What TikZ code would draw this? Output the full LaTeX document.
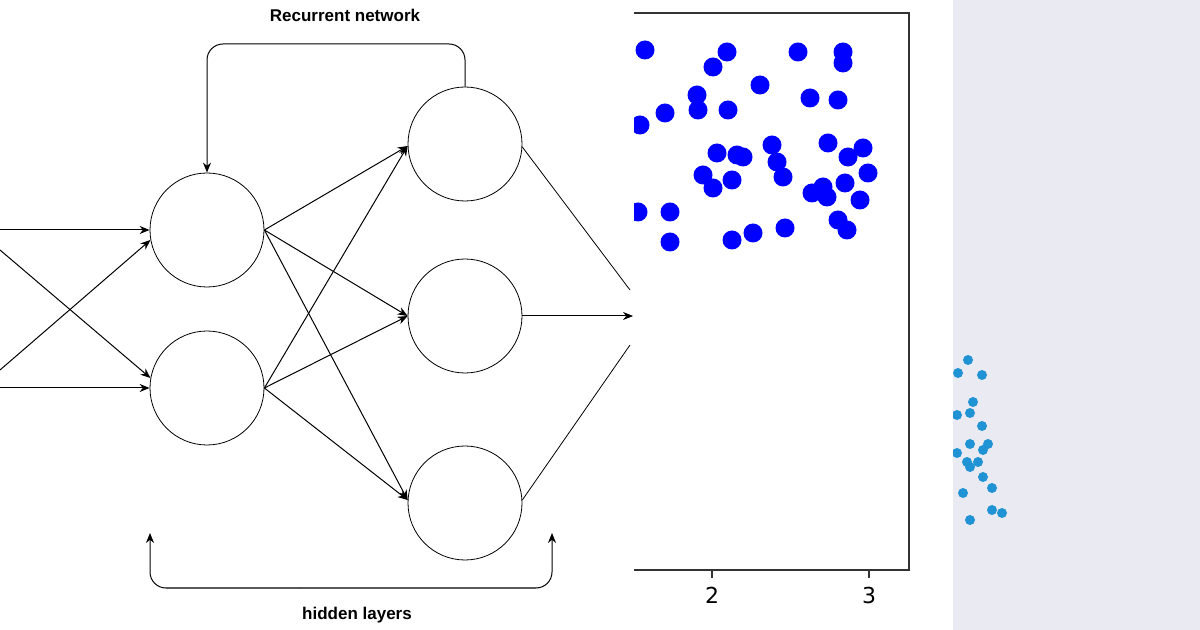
\documentclass[tikz,border=0pt]{standalone}
\usepackage{fontspec}
\setmainfont{Liberation Sans}
\newfontfamily\tickfont{DejaVu Sans}
\usetikzlibrary{arrows.meta, positioning}
\definecolor{seabg}{HTML}{EAEAF2}
\definecolor{seadot}{HTML}{1F93D4}
\tikzset{
	unit/.style={draw, circle, minimum size=57pt, inner sep=0pt},
	link/.style={-{Stealth[length=5pt,width=4pt]}, line width=0.5pt},
	caption/.style={font=\fontsize{8.5}{9}\selectfont\bfseries},
}
\begin{document}
\begin{tikzpicture}[x=0.5pt, y=-0.5pt]

\useasboundingbox (0,0) rectangle (1200,630);

% right panel background
\fill[seabg] (953,0) rectangle (1200,630);
\begin{scope}
	\clip (953,0) rectangle (1200,630);
	\foreach \px/\py in {968/360, 958/373, 982/375, 973/402, 957/415, 970/413, 982/426, 970/444, 988/444, 983/450, 957/453, 967/462, 970/467, 978/462, 983/477, 992/488, 963/493, 992/510, 1002/513, 970/520}
		\fill[seadot] (\px,\py) circle (5);
\end{scope}

% scatter panel
\begin{scope}
	\clip (634,13) rectangle (909,570);
	\foreach \px/\py in {645/50, 727/52, 713/67, 798/52, 843/52, 843/63, 760/85, 697/95, 698/110, 728/110, 665/113, 640/125, 810/98, 838/100, 772/145, 828/143, 863/148, 848/157, 717/153, 737/155, 743/157, 777/162, 783/177, 703/175, 713/188, 732/180, 868/173, 845/183, 812/193, 823/187, 827/197, 860/200, 638/212, 670/212, 838/220, 847/230, 670/242, 732/240, 753/233, 785/228}
		\fill[blue] (\px,\py) circle (9.5);
\end{scope}
\draw[line width=1pt, black!80] (634,13) -- (909,13) -- (909,570) -- (634,570);
\foreach \t/\tx in {2/712, 3/869} {
	\draw[line width=0.8pt, black!80] (\tx,570) -- (\tx,578);
	\node[font=\tickfont\fontsize{11}{12}\selectfont, anchor=north] at (\tx,580) {\t};
}

% network
\node[unit] (h1) at (207,230) {};
\node[unit] (h2) at (207,388) {};
\node[unit] (r1) at (465,144) {};
\node[unit] (r2) at (465,316) {};
\node[unit] (r3) at (465,503) {};

\coordinate (in1) at (0,230);
\coordinate (in2) at (0,388);
\coordinate (in3) at (0,250);
\coordinate (in4) at (0,370);
\draw[link] (in1) -- (h1.west);
\draw[link] (in2) -- (h2.west);
\draw[link] (in3) -- (h2.170);
\draw[link] (in4) -- (h1.190);

\foreach \a in {h1, h2} {
	\draw[link] (\a.east) -- (r1.182);
	\draw[link] (\a.east) -- (r2.west);
	\draw[link] (\a.east) -- (r3.177);
}

\coordinate (out) at (633,316);
\coordinate (o1) at (630,290);
\coordinate (o3) at (630,345);
\draw[link] (r2.east) -- (out);
\draw (r1.357) -- (o1);
\draw (r3.3) -- (o3);

% recurrent loop
\draw[link, rounded corners=8pt] (r1.north) -- (465,44) -- (207,44) -- (h1.north);
\node[caption] (rec) at (345,15) {Recurrent network};

% hidden layers bracket
\coordinate (b1) at (150,533);
\coordinate (b2) at (552,533);
\draw[link, rounded corners=8pt] (300,588) -- (150,588) -- (b1);
\draw[link, rounded corners=8pt] (300,588) -- (552,588) -- (b2);
\node[caption] (hid) at (357,615) {hidden layers};

\end{tikzpicture}
\end{document}
